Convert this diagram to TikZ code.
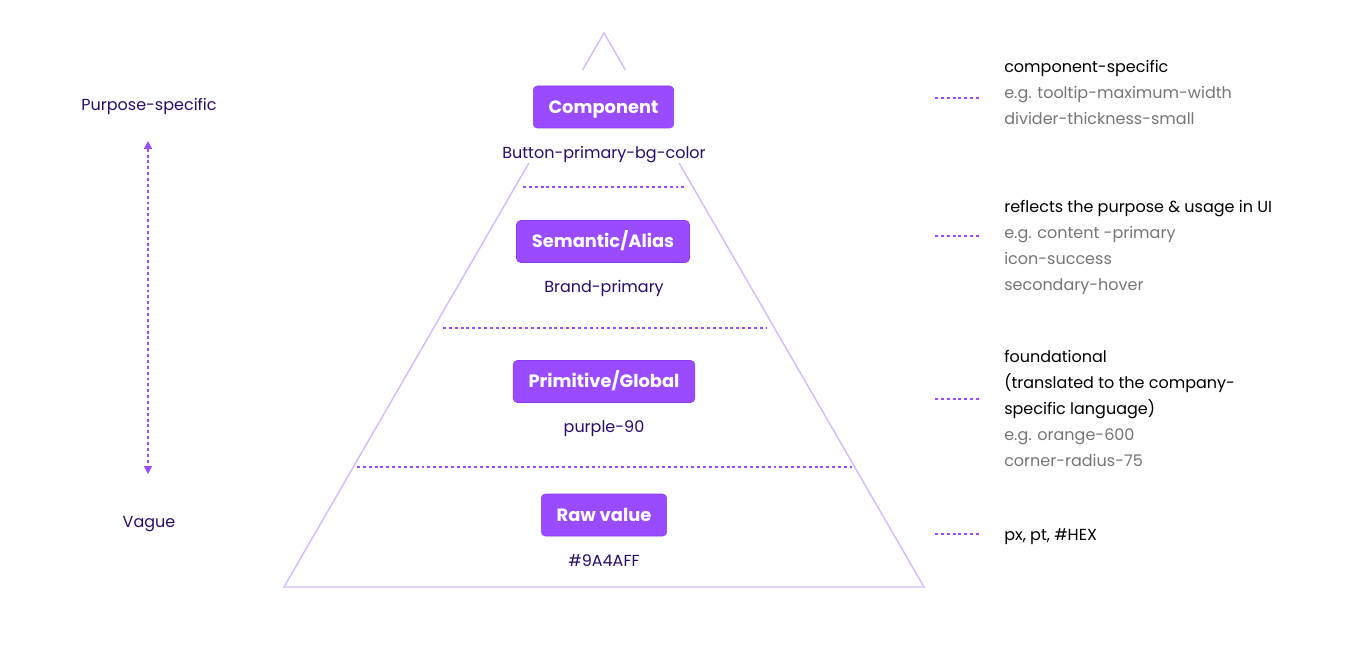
\documentclass[tikz,border=0pt]{standalone}
\usepackage{fontspec}
\setmainfont{Poppins}
\usepackage{tikz}
\usetikzlibrary{arrows.meta}

\definecolor{tokpurple}{HTML}{9A4AFF}
\definecolor{tokedge}{HTML}{8B3BF0}
\definecolor{pyrline}{HTML}{D5BBFF}
\definecolor{inkblue}{HTML}{2A0B6B}
\definecolor{greytext}{HTML}{757575}

\begin{document}
\begin{tikzpicture}[x=0.75pt,y=0.75pt,yscale=-1,xscale=1,
    tokbox/.style={draw=tokedge,fill=tokpurple,rounded corners=3pt,text=white,
        font=\fontsize{13.4}{15}\selectfont\bfseries,inner xsep=11.5pt,minimum height=31.5pt,
        text height=9.6pt,text depth=0pt},
    toklabel/.style={anchor=base,text=inkblue,font=\fontsize{12}{14}\selectfont,inner sep=0.75pt},
    sidelabel/.style={text=inkblue,font=\fontsize{12}{14}\selectfont,inner sep=0.75pt},
    notetext/.style={anchor=base west,align=left,text=greytext,
        font=\fontsize{12}{19.5}\selectfont,inner sep=0pt},
    tierline/.style={draw=tokpurple,line width=0.9pt,dash pattern=on 2.2pt off 2.2pt},
    pyrside/.style={draw=pyrline,line width=1.1pt}]
            \useasboundingbox (0,0) rectangle (1358,649);

            %Shape: Pyramid, top piece
            \draw [pyrside] (582.6,70) -- (604,33) -- (625.4,70) ;
            %Shape: Pyramid, lower part
            \draw [pyrside] [line join = miter] (528.9,163) -- (284,587) -- (924,587) -- (679.1,163) ;

            %Straight Lines: tier separators
            \draw [tierline] (523,187) -- (687,187) ;
            \draw [tierline] (443,328) -- (766,328) ;
            \draw [tierline] (357,467) -- (852,467) ;

            % Token boxes
            \node [tokbox] (component) at (603.5,107) {Component};
            \node [tokbox] (semantic) at (603,241.5) {Semantic/Alias};
            \node [tokbox] (primitive) at (604,381.5) {Primitive/Global};
            \node [tokbox] (raw) at (604,515) {Raw value};

            % Text Node
            \node [toklabel] (componentex) at (604,158) {Button-primary-bg-color};
            % Text Node
            \node [toklabel] (semanticex) at (604,292) {Brand-primary};
            % Text Node
            \node [toklabel] (primitiveex) at (604,432) {purple-90};
            % Text Node
            \node [toklabel] (rawex) at (604,566) {\#9A4AFF};

            % Text Node
            \node [sidelabel] (specific) at (149,106) {Purpose-specific};
            % Text Node
            \node [sidelabel] (vague) at (149,524) {Vague};
            \coordinate (arrtop) at (148,141) ;
            \coordinate (arrbot) at (148,474) ;
            %Straight Lines: scale arrow
            \draw [tierline,{Triangle[width=6pt,length=6pt]}-{Triangle[width=6pt,length=6pt]},fill=tokpurple] (arrtop) -- (arrbot) ;

            % Notes on the right (placed at the baseline of their last line)
            \node [notetext] (componentnote) at (1004,125) {\textcolor{black}{component-specific}\\
                e.g. tooltip-maximum-width\\
                divider-thickness-small};
            \node [notetext] (semanticnote) at (1004,290) {\textcolor{black}{reflects the purpose \& usage in UI}\\
                e.g. content -primary\\
                icon-success\\
                secondary-hover};
            \node [notetext] (primitivenote) at (1004,466) {\textcolor{black}{foundational}\\
                \textcolor{black}{(translated to the company-}\\
                \textcolor{black}{specific language)}\\
                e.g. orange-600\\
                corner-radius-75};
            \node [notetext] (rawnote) at (1004,540) {\textcolor{black}{px, pt, \#HEX}};

            %Straight Lines: note leaders
            \coordinate (lead1) at (935,98) ;
            \coordinate (lead2) at (935,236) ;
            \coordinate (lead3) at (935,399) ;
            \coordinate (lead4) at (935,534) ;
            \foreach \c in {lead1,lead2,lead3,lead4}
                \draw [tierline] (\c) -- ++(45,0) ;

\end{tikzpicture}
\end{document}
